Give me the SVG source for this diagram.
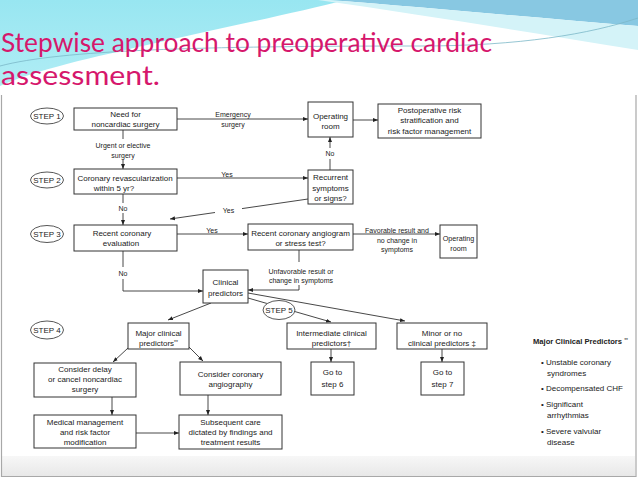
<svg xmlns="http://www.w3.org/2000/svg" width="638" height="479" viewBox="0 0 638 479">
<defs>
<marker id="ah" viewBox="0 0 6 6" refX="6" refY="3" markerWidth="5" markerHeight="5" orient="auto" markerUnits="userSpaceOnUse"><path d="M0,0.6 L6,3 L0,5.4 z" fill="#222"/></marker>
<linearGradient id="band" x1="0" y1="0" x2="0" y2="1"><stop offset="0" stop-color="#f7f7f7"/><stop offset="1" stop-color="#e8e8e8"/></linearGradient>
<linearGradient id="cy" x1="0" y1="0" x2="0" y2="1"><stop offset="0" stop-color="#98e6f1"/><stop offset="1" stop-color="#b0edf5"/></linearGradient>
</defs>
<style>
.box{fill:#fff;stroke:#333;stroke-width:1}
.ln{fill:none;stroke:#333;stroke-width:0.9}
.ar{marker-end:url(#ah)}
.t{font-family:"Liberation Sans",Arial,sans-serif;font-size:8px;fill:#222;text-anchor:middle}
.s{font-size:7px}
.st{fill:#fff;stroke:#444;stroke-width:0.9}
.lg{font-family:"Liberation Sans",Arial,sans-serif;font-size:8px;fill:#222}
.title{font-family:Lato,"Open Sans","Liberation Sans",sans-serif;font-size:26.5px;fill:#d6176c}
</style>
<rect x="0" y="0" width="638" height="479" fill="#fff"/>
<g id="background">
<path d="M0,0 H345 C300,12 230,26 160,42 C90,58 35,70 0,86 Z" fill="url(#cy)"/>
<path d="M330,0 H638 V26 C540,18 430,8 330,0 Z" fill="#88c8e2"/>
<path d="M318,0 H330 C430,8 540,18 638,26 V50 C540,34 430,16 318,0 Z" fill="#d4f3f8"/>
<path d="M0,66 C60,50 200,46 420,46 C520,46 590,34 638,18" fill="none" stroke="#7bb8c8" stroke-width="0.8"/>
<rect x="2" y="456" width="633" height="20" fill="url(#band)"/>
<path d="M1.5,95 V476.5 H636 V95" fill="none" stroke="#a8a8a8" stroke-width="1.2"/>
</g>
<g id="title">
<text class="title" x="1" y="52" textLength="491" lengthAdjust="spacingAndGlyphs">Stepwise approach to preoperative cardiac</text>
<text class="title" x="1" y="85" textLength="159" lengthAdjust="spacingAndGlyphs">assessment.</text>
</g>
<g id="connectors">
<line class="ln ar" x1="177" y1="119" x2="308" y2="119"/>
<text class="t s" x="233" y="117">Emergency</text>
<text class="t s" x="233" y="126.5">surgery</text>
<line class="ln ar" x1="353" y1="120" x2="378" y2="120"/>
<line class="ln" x1="123" y1="130" x2="123" y2="139"/>
<line class="ln ar" x1="123" y1="160" x2="123" y2="169"/>
<text class="t s" x="123" y="147.5">Urgent or elective</text>
<text class="t s" x="123" y="157.5">surgery</text>
<line class="ln" x1="330" y1="170" x2="330" y2="159"/>
<line class="ln ar" x1="330" y1="148" x2="330" y2="137"/>
<text class="t s" x="330" y="156">No</text>
<line class="ln ar" x1="177" y1="178" x2="308" y2="178"/>
<text class="t s" x="227" y="177">Yes</text>
<line class="ln" x1="123" y1="194" x2="123" y2="203"/>
<line class="ln ar" x1="123" y1="213" x2="123" y2="225"/>
<text class="t s" x="123" y="210.5">No</text>
<line class="ln" x1="308" y1="199" x2="242" y2="208.6"/>
<line class="ln ar" x1="215" y1="212.5" x2="170" y2="219"/>
<text class="t s" x="228.5" y="213">Yes</text>
<line class="ln ar" x1="177" y1="234" x2="248" y2="234"/>
<text class="t s" x="212" y="233">Yes</text>
<line class="ln ar" x1="353" y1="234" x2="440" y2="234"/>
<text class="t s" x="397" y="232.5">Favorable result and</text>
<text class="t s" x="397" y="242.5">no change in</text>
<text class="t s" x="397" y="251.5">symptoms</text>
<line class="ln" x1="299" y1="250" x2="299" y2="262"/>
<polyline class="ln ar" points="299,285 299,290 248,290"/>
<text class="t s" x="301" y="273.5">Unfavorable result or</text>
<text class="t s" x="301" y="282.5">change in symptoms</text>
<line class="ln" x1="123" y1="251" x2="123" y2="267"/>
<polyline class="ln ar" points="123,279 123,291 203,291"/>
<text class="t s" x="123" y="275.5">No</text>
<line class="ln ar" x1="211" y1="303" x2="168" y2="320"/>
<line class="ln ar" x1="248" y1="298" x2="331" y2="322"/>
<line class="ln ar" x1="248" y1="293" x2="405" y2="321"/>
<line class="ln ar" x1="128" y1="348" x2="113" y2="362"/>
<line class="ln ar" x1="189" y1="347" x2="203" y2="361"/>
<line class="ln ar" x1="331" y1="349" x2="331" y2="362"/>
<line class="ln ar" x1="442" y1="349" x2="442" y2="362"/>
<line class="ln ar" x1="112" y1="397" x2="112" y2="415"/>
<line class="ln ar" x1="208" y1="395" x2="208" y2="415"/>
<line class="ln ar" x1="136" y1="433" x2="179" y2="433"/>
</g>
<g id="step1"><ellipse class="st" cx="47" cy="116" rx="16.5" ry="8"/><text class="t" x="47" y="119">STEP 1</text></g>
<g id="step2"><ellipse class="st" cx="47" cy="180" rx="16.5" ry="8"/><text class="t" x="47" y="183">STEP 2</text></g>
<g id="step3"><ellipse class="st" cx="47" cy="234" rx="16.5" ry="8.5"/><text class="t" x="47" y="237">STEP 3</text></g>
<g id="step4"><ellipse class="st" cx="47" cy="330" rx="16.5" ry="9"/><text class="t" x="47" y="333">STEP 4</text></g>
<g id="step5"><ellipse class="st" cx="279" cy="310" rx="16" ry="9.5"/><text class="t" x="279" y="313">STEP 5</text></g>
<g id="need"><rect class="box" x="74" y="108" width="103" height="22"/><text class="t" x="125.5" y="116.5">Need for</text><text class="t" x="125.5" y="126.5">noncardiac surgery</text></g>
<g id="or1"><rect class="box" x="308" y="102" width="45" height="35"/><text class="t" x="330.5" y="119">Operating</text><text class="t" x="330.5" y="129">room</text></g>
<g id="post"><rect class="box" x="378" y="104" width="103" height="34"/><text class="t" x="429.5" y="113">Postoperative risk</text><text class="t" x="429.5" y="123">stratification and</text><text class="t" x="429.5" y="134">risk factor management</text></g>
<g id="revasc"><rect class="box" x="74" y="169" width="103" height="25"/><text class="t" x="125" y="181">Coronary revascularization</text><text class="t" x="114" y="191">within 5 yr?</text></g>
<g id="recurrent"><rect class="box" x="308" y="170" width="45" height="34"/><text class="t" x="330.5" y="180">Recurrent</text><text class="t" x="330.5" y="191">symptoms</text><text class="t" x="330.5" y="201">or signs?</text></g>
<g id="eval"><rect class="box" x="74" y="225" width="103" height="26"/><text class="t" x="122" y="236">Recent coronary</text><text class="t" x="121" y="246">evaluation</text></g>
<g id="angio"><rect class="box" x="248" y="224" width="105" height="26"/><text class="t" x="300.5" y="236">Recent coronary angiogram</text><text class="t" x="300.5" y="246">or stress test?</text></g>
<g id="or2"><rect class="box" x="440" y="225" width="37" height="33"/><text class="t" x="458.5" y="241" style="font-size:7.2px">Operating</text><text class="t" x="458.5" y="251" style="font-size:7.2px">room</text></g>
<g id="clinical"><rect class="box" x="203" y="270" width="45" height="33"/><text class="t" x="225.5" y="285">Clinical</text><text class="t" x="225.5" y="296">predictors</text></g>
<g id="major"><rect class="box" x="128" y="323" width="61" height="26"/><text class="t" x="158.5" y="336">Major clinical</text><text class="t" x="158.5" y="346">predictors<tspan style="font-size:5px" dy="-2">**</tspan></text></g>
<g id="intermediate"><rect class="box" x="287" y="323" width="89" height="26"/><text class="t" x="331.5" y="336">Intermediate clinical</text><text class="t" x="331.5" y="346">predictors†</text></g>
<g id="minor"><rect class="box" x="397" y="323" width="90" height="26"/><text class="t" x="442" y="336">Minor or no</text><text class="t" x="442" y="346">clinical predictors ‡</text></g>
<g id="step6"><rect class="box" x="311" y="362" width="43" height="33"/><text class="t" x="332.5" y="375">Go to</text><text class="t" x="332.5" y="387">step 6</text></g>
<g id="step7"><rect class="box" x="421" y="362" width="43" height="33"/><text class="t" x="442.5" y="375">Go to</text><text class="t" x="442.5" y="387">step 7</text></g>
<g id="delay"><rect class="box" x="34" y="363" width="102" height="34"/><text class="t" x="85" y="372">Consider delay</text><text class="t" x="85" y="382">or cancel noncardiac</text><text class="t" x="85" y="392">surgery</text></g>
<g id="angiography"><rect class="box" x="180" y="362" width="101" height="33"/><text class="t" x="230.5" y="377">Consider coronary</text><text class="t" x="230.5" y="387">angiography</text></g>
<g id="medical"><rect class="box" x="34" y="415" width="102" height="33"/><text class="t" x="85" y="425">Medical management</text><text class="t" x="85" y="435">and risk factor</text><text class="t" x="85" y="445">modification</text></g>
<g id="subsequent"><rect class="box" x="179" y="415" width="103" height="34"/><text class="t" x="230.5" y="425">Subsequent care</text><text class="t" x="230.5" y="435">dictated by findings and</text><text class="t" x="230.5" y="445">treatment results</text></g>
<g id="legend">
<text class="lg" x="533" y="344" style="font-weight:bold;font-size:7.6px">Major Clinical Predictors <tspan style="font-size:5px;font-weight:normal" dy="-2">**</tspan></text>
<text class="lg" x="541" y="365">• Unstable coronary</text>
<text class="lg" x="547" y="376">syndromes</text>
<text class="lg" x="541" y="391">• Decompensated CHF</text>
<text class="lg" x="541" y="407">• Significant</text>
<text class="lg" x="547" y="418">arrhythmias</text>
<text class="lg" x="541" y="434">• Severe valvular</text>
<text class="lg" x="547" y="445">disease</text>
</g>
</svg>
